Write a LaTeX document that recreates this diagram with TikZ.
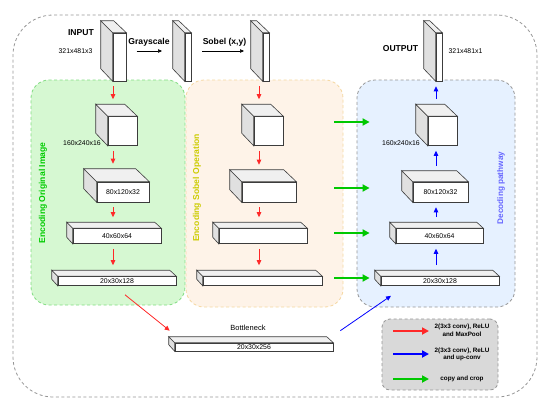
\documentclass[tikz,border=0pt]{standalone}
\usepackage{fontspec}
\setmainfont{Liberation Sans}
\usetikzlibrary{arrows.meta,calc}

\definecolor{edgegray}{RGB}{60,60,60}
\definecolor{sidegray}{RGB}{224,224,224}
\definecolor{topgray}{RGB}{240,240,240}
\definecolor{dashgray}{RGB}{150,150,150}
\definecolor{greenbg}{RGB}{214,248,210}
\definecolor{greenline}{RGB}{130,220,130}
\definecolor{peachbg}{RGB}{254,243,232}
\definecolor{peachline}{RGB}{245,215,160}
\definecolor{bluebg}{RGB}{230,241,255}
\definecolor{legendbg}{RGB}{217,217,217}
\definecolor{arrred}{RGB}{255,40,40}
\definecolor{arrblue}{RGB}{0,0,255}
\definecolor{arrgreen}{RGB}{0,200,0}
\definecolor{txtgreen}{RGB}{0,204,0}
\definecolor{txtyellow}{RGB}{204,204,0}
\definecolor{txtblue}{RGB}{102,102,255}

\newcommand{\dimfont}{\fontsize{6.9}{7}\selectfont}
\newcommand{\headfont}{\fontsize{8.6}{9}\selectfont\bfseries}

% one layer drawn as a box: name, x, y, width, height, depth, text
\newcommand{\cubelayer}[7]{%
  \node [face, minimum width=#4pt, minimum height=#5pt] at (#2,#3) (#1) {#7};
  \path [sideface] (#1.north west) -- ++(-#6,-#6) -- ++(0,#5) -- (#1.south west) -- cycle;
  \path [topface] (#1.north west) -- ++(-#6,-#6) -- ++(#4,0) -- (#1.north east) -- cycle;
  \coordinate (#1-back) at ([shift={(-#6,-#6)}]#1.north);
  \coordinate (#1-mid) at ([shift={(-#6/2,-#6/2)}]#1.center);
}

\begin{document}
\begin{tikzpicture}[x=1pt,y=-1pt,
    zone/.style={dash pattern=on 3pt off 2.5pt, line width=.8pt, rounded corners=18pt, inner sep=0pt},
    face/.style={draw=edgegray, fill=white, line width=.6pt, inner sep=0pt, font=\dimfont},
    sideface/.style={draw=edgegray, fill=sidegray, line width=.6pt},
    topface/.style={draw=edgegray, fill=topgray, line width=.6pt},
    head/.style={font=\headfont, inner sep=0pt},
    dim/.style={font=\dimfont, inner sep=0pt},
    keytext/.style={font=\fontsize{6.3}{7.6}\selectfont\bfseries, align=center, inner sep=0pt},
    blackarr/.style={draw=black, line width=.5pt, -{Triangle[length=4pt,width=3.5pt]}},
    redarr/.style={draw=arrred, line width=.8pt, -{Triangle[length=5pt,width=4.5pt]}, shorten <=5pt, shorten >=5pt},
    bluearr/.style={draw=arrblue, line width=.8pt, -{Triangle[length=5pt,width=4.5pt]}, shorten <=5pt, shorten >=5pt},
    greenarr/.style={draw=arrgreen, line width=2pt, -{Triangle[length=7pt,width=7pt]}},
    keyarr/.style={line width=2pt, -{Triangle[length=7pt,width=7pt]}},
    noshort/.style={shorten <=0pt, shorten >=0pt}]
\useasboundingbox (0,0) rectangle (550,407);

% frames
\node [zone, draw=dashgray, rounded corners=40pt, minimum width=524pt, minimum height=382pt] at (275,206) (outer) {};
\node [zone, fill=greenbg, draw=greenline, minimum width=154pt, minimum height=225pt] at (108,192.5) (encL) {};
\node [zone, fill=peachbg, draw=peachline, minimum width=157pt, minimum height=227pt] at (264.5,193.5) (encM) {};
\node [zone, fill=bluebg, draw=dashgray, minimum width=158pt, minimum height=227pt] at (436,193.5) (dec) {};
\node [zone, fill=legendbg, draw=dashgray, rounded corners=8pt, minimum width=116pt, minimum height=71pt] at (440,354.5) (legend) {};

% input row
\cubelayer{in}{119.5}{57}{13}{48}{12}{}
\cubelayer{gray}{188}{57}{6}{48}{12}{}
\cubelayer{sobel}{266}{57}{6}{48}{12}{}
\cubelayer{out}{439}{57}{6}{48}{12}{}

% encoding, original image
\cubelayer{L1}{122.5}{131}{29}{29}{12}{}
\cubelayer{L2}{123}{192}{52}{20}{13}{80x120x32}
\cubelayer{L3}{117}{236}{88}{15}{6}{40x60x64}
\cubelayer{L4}{117}{281}{118}{9}{6}{20x30x128}

% encoding, sobel
\cubelayer{M1}{268.5}{131}{29}{29}{12}{}
\cubelayer{M2}{269}{192}{54}{20}{12}{}
\cubelayer{M3}{263}{236}{88}{15}{6}{}
\cubelayer{M4}{262.5}{281}{119}{9}{6}{}

% decoding
\cubelayer{R1}{442.5}{131}{29}{29}{12}{}
\cubelayer{R2}{440.5}{192}{55}{20}{11}{80x120x32}
\cubelayer{R3}{439.5}{236}{87}{15}{6}{40x60x64}
\cubelayer{R4}{440}{281}{118}{9}{6}{20x30x128}

% bottleneck
\cubelayer{B}{254}{347}{158}{8}{6}{20x30x256}

% texts
\node [head] at (81,33) (inlab) {INPUT};
\node [dim] at (75.5,51) (indim) {321x481x3};
\node [head] at (149,42) (graylab) {Grayscale};
\node [head] at (224.5,42) (sobellab) {Sobel (x,y)};
\node [head] at (400.5,49) (outlab) {OUTPUT};
\node [dim] at (465.5,51) (outdim) {321x481x1};
\node [dim, anchor=east] at (101,143) (L1lab) {160x240x16};
\node [dim, anchor=east] at (420,143) (R1lab) {160x240x16};
\node [font=\fontsize{7.5}{9}\selectfont, inner sep=0pt] at (248,328) (blab) {Bottleneck};
\node [head, rotate=90, txtgreen] at (43,193) (encLlab) {Encoding Original Image};
\node [head, rotate=90, txtyellow] at (197,188) (encMlab) {Encoding Sobel Operation};
\node [font=\fontsize{8.2}{10}\selectfont\bfseries, inner sep=0pt, rotate=90, txtblue] at (501,188) (declab) {Decoding pathway};

% columns for the short arrows
\coordinate (colL) at (113,0);
\coordinate (colM) at (259,0);
\coordinate (colR) at (436,0);

\path (in-mid) edge[blackarr, shorten <=23pt, shorten >=20pt] (gray-mid);
\path (gray-mid) edge[blackarr, shorten <=20pt, shorten >=16pt] (sobel-mid);

\path (in.south -| colL) edge[redarr] (L1-back -| colL);
\path (L1.south -| colL) edge[redarr] (L2-back -| colL);
\path (L2.south -| colL) edge[redarr] (L3-back -| colL);
\path (L3.south -| colL) edge[redarr] (L4-back -| colL);

\path (sobel.south -| colM) edge[redarr] (M1-back -| colM);
\path (M1.south -| colM) edge[redarr] (M2-back -| colM);
\path (M2.south -| colM) edge[redarr] (M3-back -| colM);
\path (M3.south -| colM) edge[redarr] (M4-back -| colM);

\path (R4-back -| colR) edge[bluearr] (R3.south -| colR);
\path (R3-back -| colR) edge[bluearr] (R2.south -| colR);
\path (R2-back -| colR) edge[bluearr] (R1.south -| colR);
\path (R1-back -| colR) edge[bluearr] (out.south -| colR);

\path ($(M1-mid -| encM.east)+(-9,-3)$) edge[greenarr] ($(M1-mid -| dec.west)+(13,-3)$);
\path ($(M2-mid -| encM.east)+(-9,2)$) edge[greenarr] ($(M2-mid -| dec.west)+(13,2)$);
\path ($(M3-mid -| encM.east)+(-9,0)$) edge[greenarr] ($(M3-mid -| dec.west)+(13,0)$);
\path ($(M4-mid -| encM.east)+(-9,0)$) edge[greenarr] ($(M4-mid -| dec.west)+(13,0)$);

\path ([shift={(8,9)}]L4.south) edge[redarr, noshort] ([shift={(-5,-12)}]B.north west);
\path ([shift={(7,-12)}]B.north east) edge[bluearr, noshort] ([shift={(-49,10)}]R4.south);

% legend
\coordinate (k1a) at (393,331); \coordinate (k1b) at (429,331);
\coordinate (k2a) at (393,354); \coordinate (k2b) at (429,354);
\coordinate (k3a) at (393,379); \coordinate (k3b) at (429,379);
\path (k1a) edge[keyarr, draw=arrred] (k1b);
\path (k2a) edge[keyarr, draw=arrblue] (k2b);
\path (k3a) edge[greenarr] (k3b);
\node [keytext] at (462,330.5) (key1) {2(3x3 conv), ReLU\\and MaxPool};
\node [keytext] at (462,354.5) (key2) {2(3x3 conv), ReLU\\and up-conv};
\node [keytext] at (462,379) (key3) {copy and crop};

\end{tikzpicture}
\end{document}
